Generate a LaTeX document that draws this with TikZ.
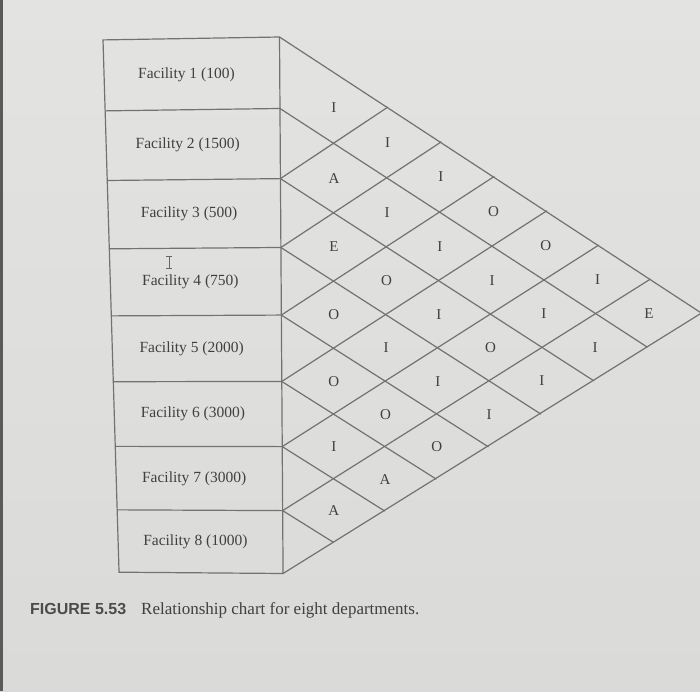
\documentclass[tikz,border=0pt]{standalone}
\usepackage{fontspec}
\setmainfont{Liberation Serif}
\newfontfamily\capsans{Liberation Sans}
\definecolor{bgt}{HTML}{E3E3E1}
\definecolor{bgb}{HTML}{DADAD8}
\definecolor{edgec}{HTML}{5A5A5A}
\definecolor{ln}{HTML}{727272}
\definecolor{tx}{HTML}{404040}
\definecolor{capc}{HTML}{4C4C4C}
\newcommand\defpt[3]{%
  \pgfmathsetmacro\rcw{1+0.0095*(#3)}%
  \pgfmathsetmacro\rcx{330+(279.5+54.5*(#2)-330)/\rcw}%
  \pgfmathsetmacro\rcy{37+72.16*(#3)/\rcw+(#2)*(-0.9+0.1625*(#3))}%
  \coordinate (#1) at (\rcx,\rcy);}
\begin{document}
\begin{tikzpicture}[x=1pt,y=-1pt,
  grid/.style={draw=ln,line width=1.2pt,line join=miter},
  fac/.style={font=\fontsize{15.5}{18}\selectfont,text=tx,inner sep=0pt},
  rel/.style={font=\fontsize{15}{18}\selectfont,text=tx,inner sep=0pt},
  cursorline/.style={draw=ln!90!black,line width=0.9pt}]
\useasboundingbox (0,0) rectangle (700,691);
\shade[top color=bgt,bottom color=bgb] (0,0) rectangle (700,691);
\fill[edgec] (0,0) rectangle (2.5,691);
% grid points
\foreach \k in {0,...,8}{\defpt{B\k}{0}{\k}\defpt{L\k}{-3.2385}{\k}}
\defpt{apex}{8}{4}
\foreach \k in {1,...,7}{\defpt{D\k}{8-\k}{(8+\k)/2}}
\foreach \k in {2,...,7}{\defpt{U\k}{\k}{\k/2}}
% table
\draw[grid] (L0) -- (B0) -- (B8) -- (L8) -- cycle;
\foreach \k in {1,...,7}{\draw[grid] (L\k) -- (B\k);}
% triangle and diamond grid
\draw[grid] (B0) -- (apex) -- (B8);
\foreach \k in {1,...,7}{\draw[grid] (B\k) -- (D\k);}
\foreach \k in {2,...,7}{\draw[grid] (B\k) -- (U\k);}
% facility labels
\foreach \i/\n in {1/100,2/1500,3/500,4/750,5/2000,6/3000,7/3000,8/1000}{%
  \defpt{fc\i}{-1.72}{\i-0.5}
  \node[fac] (f\i) at (fc\i) {Facility \i\ (\n)};}
% relationship codes
\foreach \i/\j/\t in {1/2/I,2/3/A,3/4/E,4/5/O,5/6/O,6/7/I,7/8/A,
  1/3/I,2/4/I,3/5/O,4/6/I,5/7/O,6/8/A,
  1/4/I,2/5/I,3/6/I,4/7/I,5/8/O,
  1/5/O,2/6/I,3/7/O,4/8/I,
  1/6/O,2/7/I,3/8/I,
  1/7/I,2/8/I,
  1/8/E}{%
  \defpt{cc\i\j}{\j-\i}{(\i+\j-1)/2}
  \node[rel] (c\i\j) at (cc\i\j) {\t};}
% text cursor seen in the photo
\draw[cursorline] (169,257) -- (169,268);
\draw[cursorline] (166,256.5) -- (172,256.5);
\draw[cursorline] (166,268.5) -- (172,268.5);
% caption
\node[anchor=base west,inner sep=0pt,text=capc,font=\capsans\bfseries\fontsize{16}{19}\selectfont] (figno) at (30,614) {FIGURE 5.53};
\node[anchor=base west,inner sep=0pt,text=tx,font=\fontsize{17}{20}\selectfont] (cap) at (141,614) {Relationship chart for eight departments.};
\end{tikzpicture}
\end{document}
